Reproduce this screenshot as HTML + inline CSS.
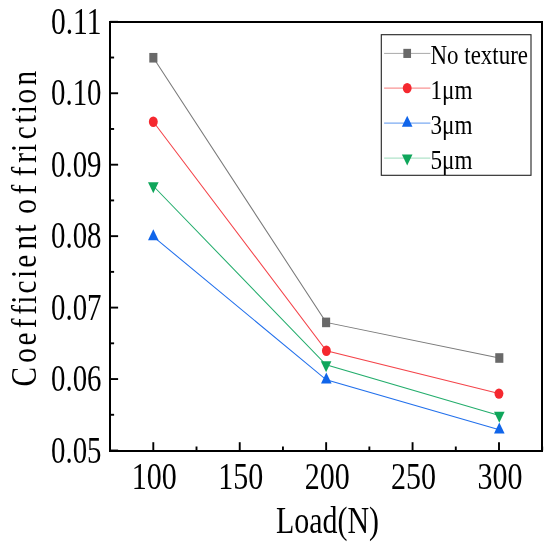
<!DOCTYPE html>
<html><head><meta charset="utf-8"><style>
html,body{margin:0;padding:0;background:#fff;}
svg{display:block;}
text{font-variant-ligatures:none;}
</style></head><body>
<svg width="550" height="550" viewBox="0 0 550 550">
<rect width="550" height="550" fill="#fff"/>
<polyline points="153.35,57.75 326.10,322.40 499.30,358.00" fill="none" stroke="#7a7a7a" stroke-width="1.05"/>
<polyline points="153.30,121.80 326.40,350.70 498.95,393.60" fill="none" stroke="#f4444a" stroke-width="1.05"/>
<polyline points="153.30,236.60 326.30,379.80 499.30,429.80" fill="none" stroke="#2270ec" stroke-width="1.05"/>
<polyline points="153.30,186.00 326.10,364.80 499.30,415.40" fill="none" stroke="#23ad6c" stroke-width="1.05"/>
<rect x="149.30" y="52.95" width="8.10" height="9.60" fill="#696969"/>
<rect x="322.05" y="317.60" width="8.10" height="9.60" fill="#696969"/>
<rect x="495.25" y="353.20" width="8.10" height="9.60" fill="#696969"/>
<ellipse cx="153.30" cy="121.80" rx="4.45" ry="5.20" fill="#f5282f"/>
<ellipse cx="326.40" cy="350.70" rx="4.45" ry="5.20" fill="#f5282f"/>
<ellipse cx="498.95" cy="393.60" rx="4.45" ry="5.20" fill="#f5282f"/>
<polygon points="153.30,229.27 158.60,240.27 148.00,240.27" fill="#1065ea"/>
<polygon points="326.30,372.47 331.60,383.47 321.00,383.47" fill="#1065ea"/>
<polygon points="499.30,422.47 504.60,433.47 494.00,433.47" fill="#1065ea"/>
<polygon points="148.00,182.33 158.60,182.33 153.30,193.33" fill="#0fa65b"/>
<polygon points="320.80,361.13 331.40,361.13 326.10,372.13" fill="#0fa65b"/>
<polygon points="494.00,411.73 504.60,411.73 499.30,422.73" fill="#0fa65b"/>
<rect x="110" y="22" width="432" height="429" fill="none" stroke="#000" stroke-width="2"/>
<line x1="110.1" y1="450.50" x2="118.1" y2="450.50" stroke="#000" stroke-width="1.9"/>
<line x1="110.1" y1="414.78" x2="114.1" y2="414.78" stroke="#000" stroke-width="1.9"/>
<line x1="110.1" y1="379.05" x2="118.1" y2="379.05" stroke="#000" stroke-width="1.9"/>
<line x1="110.1" y1="343.32" x2="114.1" y2="343.32" stroke="#000" stroke-width="1.9"/>
<line x1="110.1" y1="307.60" x2="118.1" y2="307.60" stroke="#000" stroke-width="1.9"/>
<line x1="110.1" y1="271.87" x2="114.1" y2="271.87" stroke="#000" stroke-width="1.9"/>
<line x1="110.1" y1="236.15" x2="118.1" y2="236.15" stroke="#000" stroke-width="1.9"/>
<line x1="110.1" y1="200.42" x2="114.1" y2="200.42" stroke="#000" stroke-width="1.9"/>
<line x1="110.1" y1="164.70" x2="118.1" y2="164.70" stroke="#000" stroke-width="1.9"/>
<line x1="110.1" y1="128.98" x2="114.1" y2="128.98" stroke="#000" stroke-width="1.9"/>
<line x1="110.1" y1="93.25" x2="118.1" y2="93.25" stroke="#000" stroke-width="1.9"/>
<line x1="110.1" y1="57.52" x2="114.1" y2="57.52" stroke="#000" stroke-width="1.9"/>
<line x1="110.1" y1="21.80" x2="118.1" y2="21.80" stroke="#000" stroke-width="1.9"/>
<line x1="153.30" y1="450.5" x2="153.30" y2="442.2" stroke="#000" stroke-width="1.9"/>
<line x1="239.73" y1="450.5" x2="239.73" y2="442.2" stroke="#000" stroke-width="1.9"/>
<line x1="326.15" y1="450.5" x2="326.15" y2="442.2" stroke="#000" stroke-width="1.9"/>
<line x1="412.57" y1="450.5" x2="412.57" y2="442.2" stroke="#000" stroke-width="1.9"/>
<line x1="499.00" y1="450.5" x2="499.00" y2="442.2" stroke="#000" stroke-width="1.9"/>
<line x1="196.51" y1="450.5" x2="196.51" y2="446.5" stroke="#000" stroke-width="1.9"/>
<line x1="282.94" y1="450.5" x2="282.94" y2="446.5" stroke="#000" stroke-width="1.9"/>
<line x1="369.36" y1="450.5" x2="369.36" y2="446.5" stroke="#000" stroke-width="1.9"/>
<line x1="455.79" y1="450.5" x2="455.79" y2="446.5" stroke="#000" stroke-width="1.9"/>
<line x1="542.21" y1="450.5" x2="542.21" y2="446.5" stroke="#000" stroke-width="1.9"/>
<text x="101.5" y="462.50" text-anchor="end" font-size="37.5" font-family="Liberation Serif, Times New Roman, serif" textLength="50.5" lengthAdjust="spacingAndGlyphs">0.05</text>
<text x="101.5" y="391.05" text-anchor="end" font-size="37.5" font-family="Liberation Serif, Times New Roman, serif" textLength="50.5" lengthAdjust="spacingAndGlyphs">0.06</text>
<text x="101.5" y="319.60" text-anchor="end" font-size="37.5" font-family="Liberation Serif, Times New Roman, serif" textLength="50.5" lengthAdjust="spacingAndGlyphs">0.07</text>
<text x="101.5" y="248.15" text-anchor="end" font-size="37.5" font-family="Liberation Serif, Times New Roman, serif" textLength="50.5" lengthAdjust="spacingAndGlyphs">0.08</text>
<text x="101.5" y="176.70" text-anchor="end" font-size="37.5" font-family="Liberation Serif, Times New Roman, serif" textLength="50.5" lengthAdjust="spacingAndGlyphs">0.09</text>
<text x="101.5" y="105.25" text-anchor="end" font-size="37.5" font-family="Liberation Serif, Times New Roman, serif" textLength="50.5" lengthAdjust="spacingAndGlyphs">0.10</text>
<text x="101.5" y="33.80" text-anchor="end" font-size="37.5" font-family="Liberation Serif, Times New Roman, serif" textLength="50.5" lengthAdjust="spacingAndGlyphs">0.11</text>
<text x="154.30" y="489" text-anchor="middle" font-size="37.5" font-family="Liberation Serif, Times New Roman, serif" textLength="45" lengthAdjust="spacingAndGlyphs">100</text>
<text x="240.73" y="489" text-anchor="middle" font-size="37.5" font-family="Liberation Serif, Times New Roman, serif" textLength="45" lengthAdjust="spacingAndGlyphs">150</text>
<text x="327.15" y="489" text-anchor="middle" font-size="37.5" font-family="Liberation Serif, Times New Roman, serif" textLength="45" lengthAdjust="spacingAndGlyphs">200</text>
<text x="413.57" y="489" text-anchor="middle" font-size="37.5" font-family="Liberation Serif, Times New Roman, serif" textLength="45" lengthAdjust="spacingAndGlyphs">250</text>
<text x="500.00" y="489" text-anchor="middle" font-size="37.5" font-family="Liberation Serif, Times New Roman, serif" textLength="45" lengthAdjust="spacingAndGlyphs">300</text>
<text x="327.5" y="532.7" text-anchor="middle" font-size="37" font-family="Liberation Serif, Times New Roman, serif" textLength="103" lengthAdjust="spacingAndGlyphs">Load(N)</text>
<text transform="translate(35.7,390.0) rotate(-90) scale(0.8,1)" x="4.34 34.13 55.76 77.30 93.99 107.83 120.58 140.08 152.88 175.67 196.42 206.42 220.25 244.30 254.30 266.80 284.03 297.39 313.39 333.30 346.08 358.19 380.54" y="0" font-size="36.5" font-family="Liberation Serif, Times New Roman, serif">Coefficient of friction</text>
<rect x="381.3" y="34.7" width="149.70" height="140.60" fill="#fff" stroke="#222" stroke-width="1.1"/>
<line x1="384.1" y1="53.4" x2="430.4" y2="53.4" stroke="#a9a9a9" stroke-width="1"/>
<rect x="403.35" y="48.84" width="7.69" height="9.12" fill="#696969"/>
<text x="430.5" y="63.80" font-size="27" font-family="Liberation Serif, Times New Roman, serif" textLength="97.5" lengthAdjust="spacingAndGlyphs">No texture</text>
<line x1="384.1" y1="88.1" x2="430.4" y2="88.1" stroke="#f77a7a" stroke-width="1"/>
<ellipse cx="407.20" cy="88.10" rx="4.45" ry="5.20" fill="#f5282f"/>
<text x="430.5" y="98.50" font-size="27" font-family="Liberation Serif, Times New Roman, serif" textLength="42" lengthAdjust="spacingAndGlyphs">1μm</text>
<line x1="384.1" y1="123.1" x2="430.4" y2="123.1" stroke="#5b95ee" stroke-width="1"/>
<polygon points="407.20,115.77 412.50,126.77 401.90,126.77" fill="#1065ea"/>
<text x="430.5" y="133.50" font-size="27" font-family="Liberation Serif, Times New Roman, serif" textLength="42" lengthAdjust="spacingAndGlyphs">3μm</text>
<line x1="384.1" y1="158.1" x2="430.4" y2="158.1" stroke="#9ddcbd" stroke-width="1"/>
<polygon points="401.90,154.43 412.50,154.43 407.20,165.43" fill="#0fa65b"/>
<text x="430.5" y="168.50" font-size="27" font-family="Liberation Serif, Times New Roman, serif" textLength="42" lengthAdjust="spacingAndGlyphs">5μm</text>
</svg>
</body></html>
